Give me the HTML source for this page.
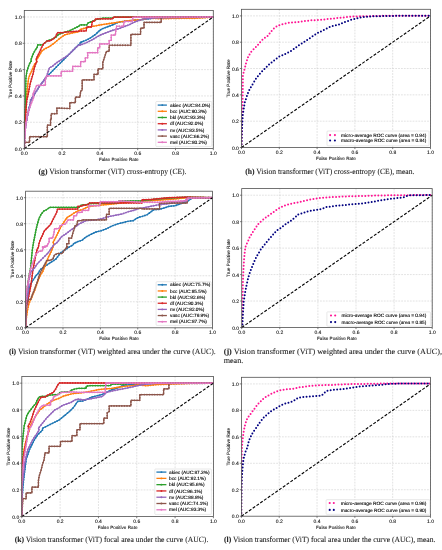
<!DOCTYPE html>
<html><head><meta charset="utf-8"><style>
html,body{margin:0;padding:0;background:#fff;}
body{width:442px;height:550px;overflow:hidden;position:relative;}
svg{position:absolute;left:0;top:0;filter:blur(0.28px);}
text{text-rendering:geometricPrecision;}
.grid{stroke:#c4c4c4;stroke-width:0.5;stroke-dasharray:1.8 1.1;}
.tick{stroke:#222;stroke-width:0.6;}
.frame{fill:none;stroke:#505050;stroke-width:0.8;}
.diag{stroke:#000;stroke-width:1.1;stroke-dasharray:3 1.6;}
.cc{fill:none;stroke-width:1.2;stroke-linejoin:round;}
.cm{fill:none;stroke-width:1.8;stroke-linecap:round;stroke-dasharray:0 2.6;}
.mc{fill:none;stroke-width:2.0;stroke-linecap:round;stroke-dasharray:0 3.25;}
.leg{fill:#fff;fill-opacity:0.8;stroke:#d0d0d0;stroke-width:0.5;}
.lh{stroke-width:1.3;}
.tl{font-family:"Liberation Sans",sans-serif;font-size:5.0px;fill:#000;stroke:#000;stroke-width:0.08;}
.al{font-family:"Liberation Sans",sans-serif;font-size:4.7px;fill:#000;stroke:#000;stroke-width:0.06;}
.lt{font-family:"Liberation Sans",sans-serif;font-size:4.75px;fill:#000;stroke:#000;stroke-width:0.12;}
.cap{font-family:"Liberation Serif",serif;font-size:7.5px;fill:#1a1a1a;stroke:#1a1a1a;stroke-width:0.08;}
</style></head><body>
<svg width="442" height="550" viewBox="0 0 442 550">
<defs><clipPath id="clipg"><rect x="24.3" y="10.4" width="189.00" height="138.20"/></clipPath><clipPath id="cliph"><rect x="241.5" y="9.3" width="189.00" height="138.20"/></clipPath><clipPath id="clipi"><rect x="25.6" y="191.2" width="186.90" height="136.60"/></clipPath><clipPath id="clipj"><rect x="241.7" y="188.6" width="190.50" height="138.90"/></clipPath><clipPath id="clipk"><rect x="21.8" y="376.5" width="191.60" height="140.10"/></clipPath><clipPath id="clipl"><rect x="241.4" y="377.3" width="189.10" height="138.90"/></clipPath></defs>
<line x1="62.10" y1="10.40" x2="62.10" y2="148.60" class="grid"/>
<line x1="24.30" y1="122.28" x2="213.30" y2="122.28" class="grid"/>
<line x1="99.90" y1="10.40" x2="99.90" y2="148.60" class="grid"/>
<line x1="24.30" y1="95.95" x2="213.30" y2="95.95" class="grid"/>
<line x1="137.70" y1="10.40" x2="137.70" y2="148.60" class="grid"/>
<line x1="24.30" y1="69.63" x2="213.30" y2="69.63" class="grid"/>
<line x1="175.50" y1="10.40" x2="175.50" y2="148.60" class="grid"/>
<line x1="24.30" y1="43.30" x2="213.30" y2="43.30" class="grid"/>
<line x1="213.30" y1="10.40" x2="213.30" y2="148.60" class="grid"/>
<line x1="24.30" y1="16.98" x2="213.30" y2="16.98" class="grid"/>
<line x1="24.30" y1="148.60" x2="24.30" y2="150.20" class="tick"/>
<line x1="22.70" y1="148.60" x2="24.30" y2="148.60" class="tick"/>
<text x="24.30" y="155.10" class="tl" text-anchor="middle">0.0</text>
<text x="21.70" y="150.70" class="tl" text-anchor="end">0.0</text>
<line x1="62.10" y1="148.60" x2="62.10" y2="150.20" class="tick"/>
<line x1="22.70" y1="122.28" x2="24.30" y2="122.28" class="tick"/>
<text x="62.10" y="155.10" class="tl" text-anchor="middle">0.2</text>
<text x="21.70" y="124.38" class="tl" text-anchor="end">0.2</text>
<line x1="99.90" y1="148.60" x2="99.90" y2="150.20" class="tick"/>
<line x1="22.70" y1="95.95" x2="24.30" y2="95.95" class="tick"/>
<text x="99.90" y="155.10" class="tl" text-anchor="middle">0.4</text>
<text x="21.70" y="98.05" class="tl" text-anchor="end">0.4</text>
<line x1="137.70" y1="148.60" x2="137.70" y2="150.20" class="tick"/>
<line x1="22.70" y1="69.63" x2="24.30" y2="69.63" class="tick"/>
<text x="137.70" y="155.10" class="tl" text-anchor="middle">0.6</text>
<text x="21.70" y="71.73" class="tl" text-anchor="end">0.6</text>
<line x1="175.50" y1="148.60" x2="175.50" y2="150.20" class="tick"/>
<line x1="22.70" y1="43.30" x2="24.30" y2="43.30" class="tick"/>
<text x="175.50" y="155.10" class="tl" text-anchor="middle">0.8</text>
<text x="21.70" y="45.40" class="tl" text-anchor="end">0.8</text>
<line x1="213.30" y1="148.60" x2="213.30" y2="150.20" class="tick"/>
<line x1="22.70" y1="16.98" x2="24.30" y2="16.98" class="tick"/>
<text x="213.30" y="155.10" class="tl" text-anchor="middle">1.0</text>
<text x="21.70" y="19.08" class="tl" text-anchor="end">1.0</text>
<text x="118.80" y="161.10" class="al" text-anchor="middle" textLength="39.8" lengthAdjust="spacingAndGlyphs">False Positive Rate</text>
<text transform="translate(12.40,79.50) rotate(-90)" x="0" y="0" class="al" text-anchor="middle" textLength="37.7" lengthAdjust="spacingAndGlyphs">True Positive Rate</text>
<g clip-path="url(#clipg)">
<polyline points="24.30,148.60 24.60,137.00 25.35,128.36 26.36,122.00 27.64,114.36 28.91,108.00 30.82,101.64 31.11,100.00 34.50,94.30 38.57,87.51 42.65,82.08 46.72,76.65 50.79,72.58 53.51,69.86 56.22,67.15 58.94,64.43 62.33,61.04 65.72,57.65 69.79,53.57 73.87,49.50 77.94,45.43 82.01,42.04 80.00,42.54 85.43,40.51 89.50,38.47 93.57,35.75 96.29,33.72 99.00,31.00 101.72,28.97 107.15,26.93 112.58,24.90 116.65,22.86 120.72,21.77 127.51,20.82 134.30,20.14 140.00,19.87 155.19,17.91 180.98,17.57 203.34,17.39 213.30,16.98" class="cc" stroke="#1f77b4"/>
<polyline points="24.30,148.60 24.60,137.00 25.35,128.36 26.36,122.00 27.64,114.36 28.91,108.00 30.82,101.64 31.11,100.00 34.50,94.30 38.57,87.51 42.65,82.08 46.72,76.65 50.79,72.58 53.51,69.86 56.22,67.15 58.94,64.43 62.33,61.04 65.72,57.65 69.79,53.57 73.87,49.50 77.94,45.43 82.01,42.04 80.00,42.54 85.43,40.51 89.50,38.47 93.57,35.75 96.29,33.72 99.00,31.00 101.72,28.97 107.15,26.93 112.58,24.90 116.65,22.86 120.72,21.77 127.51,20.82 134.30,20.14 140.00,19.87 155.19,17.91 180.98,17.57 203.34,17.39 213.30,16.98" class="cm" stroke="#1f77b4"/>
<polyline points="24.30,148.60 24.70,122.00 26.36,100.00 26.81,94.39 27.71,85.34 28.62,78.10 29.98,74.48 31.79,70.86 33.14,67.24 34.95,63.62 36.76,61.81 36.35,59.96 39.07,55.87 41.80,51.10 44.52,49.06 48.61,47.02 52.70,44.29 56.78,40.89 60.87,37.48 64.96,34.75 64.75,34.80 71.09,33.21 79.01,31.63 80.00,29.65 86.79,27.61 93.57,26.25 100.36,24.90 107.15,23.81 113.94,22.86 120.72,21.77 127.51,20.82 134.30,20.14 140.00,19.87 148.32,18.25 160.35,18.60 172.39,18.43 194.74,18.25 211.93,17.22 213.30,16.98" class="cc" stroke="#ff7f0e"/>
<polyline points="24.30,148.60 24.70,122.00 26.36,100.00 26.81,94.39 27.71,85.34 28.62,78.10 29.98,74.48 31.79,70.86 33.14,67.24 34.95,63.62 36.76,61.81 36.35,59.96 39.07,55.87 41.80,51.10 44.52,49.06 48.61,47.02 52.70,44.29 56.78,40.89 60.87,37.48 64.96,34.75 64.75,34.80 71.09,33.21 79.01,31.63 80.00,29.65 86.79,27.61 93.57,26.25 100.36,24.90 107.15,23.81 113.94,22.86 120.72,21.77 127.51,20.82 134.30,20.14 140.00,19.87 148.32,18.25 160.35,18.60 172.39,18.43 194.74,18.25 211.93,17.22 213.30,16.98" class="cm" stroke="#ff7f0e"/>
<polyline points="24.30,148.60 24.60,118.00 25.45,100.00 25.72,87.15 25.90,78.10 26.81,71.76 28.17,67.24 29.52,63.62 31.33,60.90 30.90,59.96 32.94,54.51 34.99,50.42 37.03,47.70 37.71,44.97 42.48,44.97 43.84,43.61 47.25,40.89 51.34,39.52 55.42,37.48 58.15,34.75 60.87,33.39 64.96,32.03 69.50,30.84 74.25,28.46 79.01,26.09 80.00,24.90 86.79,24.90 88.14,22.86 93.57,20.82 96.29,19.47 103.08,18.11 112.58,18.11 113.94,17.16 213.30,16.98" class="cc" stroke="#2ca02c"/>
<polyline points="24.30,148.60 24.60,118.00 25.45,100.00 25.72,87.15 25.90,78.10 26.81,71.76 28.17,67.24 29.52,63.62 31.33,60.90 30.90,59.96 32.94,54.51 34.99,50.42 37.03,47.70 37.71,44.97 42.48,44.97 43.84,43.61 47.25,40.89 51.34,39.52 55.42,37.48 58.15,34.75 60.87,33.39 64.96,32.03 69.50,30.84 74.25,28.46 79.01,26.09 80.00,24.90 86.79,24.90 88.14,22.86 93.57,20.82 96.29,19.47 103.08,18.11 112.58,18.11 113.94,17.16 213.30,16.98" class="cm" stroke="#2ca02c"/>
<polyline points="24.30,148.60 24.80,126.00 26.81,100.00 28.17,94.39 29.52,87.15 30.43,82.62 31.79,78.10 33.14,73.57 34.05,69.05 35.41,64.52 36.76,61.81 36.35,58.60 38.39,54.51 39.75,51.78 41.12,48.38 42.48,45.65 43.84,43.61 47.25,40.89 49.97,40.89 53.38,38.84 55.42,36.80 57.47,32.71 62.23,32.71 66.32,32.03 80.00,31.00 86.11,31.00 86.79,26.93 91.54,26.93 92.22,21.50 94.93,20.82 95.61,18.79 112.58,18.79 113.26,17.16 213.30,16.98" class="cc" stroke="#d62728"/>
<polyline points="24.30,148.60 24.80,126.00 26.81,100.00 28.17,94.39 29.52,87.15 30.43,82.62 31.79,78.10 33.14,73.57 34.05,69.05 35.41,64.52 36.76,61.81 36.35,58.60 38.39,54.51 39.75,51.78 41.12,48.38 42.48,45.65 43.84,43.61 47.25,40.89 49.97,40.89 53.38,38.84 55.42,36.80 57.47,32.71 62.23,32.71 66.32,32.03 80.00,31.00 86.11,31.00 86.79,26.93 91.54,26.93 92.22,21.50 94.93,20.82 95.61,18.79 112.58,18.79 113.26,17.16 213.30,16.98" class="cm" stroke="#d62728"/>
<polyline points="24.30,148.60 24.60,135.00 26.11,123.27 27.64,115.64 30.18,105.46 30.43,100.00 34.50,94.30 38.57,87.51 42.65,82.08 46.72,75.97 49.43,67.83 52.15,66.47 56.22,63.08 60.29,60.36 64.36,57.65 68.44,54.93 72.51,50.86 76.58,46.79 80.65,44.07 80.00,45.26 86.79,42.54 92.22,39.83 97.65,36.43 101.72,34.40 107.15,32.36 112.58,30.32 118.01,28.97 123.44,26.93 128.87,24.90 134.30,22.18 140.00,20.14 143.16,18.94 155.19,17.91 172.39,17.57 189.58,17.39 213.30,16.98" class="cc" stroke="#9467bd"/>
<polyline points="24.30,148.60 24.60,135.00 26.11,123.27 27.64,115.64 30.18,105.46 30.43,100.00 34.50,94.30 38.57,87.51 42.65,82.08 46.72,75.97 49.43,67.83 52.15,66.47 56.22,63.08 60.29,60.36 64.36,57.65 68.44,54.93 72.51,50.86 76.58,46.79 80.65,44.07 80.00,45.26 86.79,42.54 92.22,39.83 97.65,36.43 101.72,34.40 107.15,32.36 112.58,30.32 118.01,28.97 123.44,26.93 128.87,24.90 134.30,22.18 140.00,20.14 143.16,18.94 155.19,17.91 172.39,17.57 189.58,17.39 213.30,16.98" class="cm" stroke="#9467bd"/>
<polyline points="24.30,148.60 24.45,142.36 29.55,142.36 29.55,136.64 47.36,136.64 47.36,125.18 50.55,125.18 50.55,119.46 51.18,119.46 51.18,113.73 56.91,113.73 56.91,108.00 69.80,108.50 69.80,102.60 75.40,102.60 75.40,97.20 80.00,97.20 80.60,91.30 82.20,90.00 82.20,79.90 94.00,79.90 94.00,74.40 98.00,74.40 98.00,68.80 102.80,68.80 102.80,62.50 106.47,51.36 109.18,51.36 109.18,45.26 130.90,45.26 130.90,34.40 140.00,34.40 140.58,34.07 140.58,28.05 144.02,28.05 144.02,22.38 161.21,22.38 161.21,17.22 213.30,16.98" class="cc" stroke="#8c564b"/>
<polyline points="24.30,148.60 24.45,142.36 29.55,142.36 29.55,136.64 47.36,136.64 47.36,125.18 50.55,125.18 50.55,119.46 51.18,119.46 51.18,113.73 56.91,113.73 56.91,108.00 69.80,108.50 69.80,102.60 75.40,102.60 75.40,97.20 80.00,97.20 80.60,91.30 82.20,90.00 82.20,79.90 94.00,79.90 94.00,74.40 98.00,74.40 98.00,68.80 102.80,68.80 102.80,62.50 106.47,51.36 109.18,51.36 109.18,45.26 130.90,45.26 130.90,34.40 140.00,34.40 140.58,34.07 140.58,28.05 144.02,28.05 144.02,22.38 161.21,22.38 161.21,17.22 213.30,16.98" class="cm" stroke="#8c564b"/>
<polyline points="24.30,148.60 24.84,136.00 25.73,125.82 27.00,116.91 28.91,109.27 31.45,102.91 34.00,96.55 32.69,94.84 36.76,85.34 45.36,85.34 45.36,79.91 46.72,75.84 61.20,75.84 61.20,71.31 72.67,71.22 72.67,66.47 80.59,66.47 80.59,61.72 85.34,61.72 85.34,57.76 87.72,57.76 87.72,53.01 87.47,52.72 97.65,52.72 97.65,47.97 99.68,47.97 99.68,43.90 109.18,43.90 109.18,40.51 111.22,40.51 111.22,35.08 115.29,35.08 115.97,29.65 116.65,26.25 123.44,26.25 124.12,21.50 132.26,21.50 132.94,17.43 140.00,17.16 213.30,16.98" class="cc" stroke="#e377c2"/>
<polyline points="24.30,148.60 24.84,136.00 25.73,125.82 27.00,116.91 28.91,109.27 31.45,102.91 34.00,96.55 32.69,94.84 36.76,85.34 45.36,85.34 45.36,79.91 46.72,75.84 61.20,75.84 61.20,71.31 72.67,71.22 72.67,66.47 80.59,66.47 80.59,61.72 85.34,61.72 85.34,57.76 87.72,57.76 87.72,53.01 87.47,52.72 97.65,52.72 97.65,47.97 99.68,47.97 99.68,43.90 109.18,43.90 109.18,40.51 111.22,40.51 111.22,35.08 115.29,35.08 115.97,29.65 116.65,26.25 123.44,26.25 124.12,21.50 132.26,21.50 132.94,17.43 140.00,17.16 213.30,16.98" class="cm" stroke="#e377c2"/>
</g>
<line x1="24.30" y1="148.60" x2="213.30" y2="16.98" class="diag"/>
<rect x="24.30" y="10.40" width="189.00" height="138.20" class="frame"/>
<rect x="155.8" y="101.5" width="56.00" height="44.90" rx="0.8" class="leg"/>
<line x1="157.7" y1="105.10" x2="166.9" y2="105.10" stroke="#1f77b4" class="lh"/>
<circle cx="162.30" cy="105.10" r="0.95" fill="#1f77b4"/>
<text x="170.0" y="106.70" class="lt">akiec (AUC:84.0%)</text>
<line x1="157.7" y1="111.30" x2="166.9" y2="111.30" stroke="#ff7f0e" class="lh"/>
<circle cx="162.30" cy="111.30" r="0.95" fill="#ff7f0e"/>
<text x="170.0" y="112.90" class="lt">bcc (AUC:90.3%)</text>
<line x1="157.7" y1="117.50" x2="166.9" y2="117.50" stroke="#2ca02c" class="lh"/>
<circle cx="162.30" cy="117.50" r="0.95" fill="#2ca02c"/>
<text x="170.0" y="119.10" class="lt">bkl (AUC:93.3%)</text>
<line x1="157.7" y1="123.70" x2="166.9" y2="123.70" stroke="#d62728" class="lh"/>
<circle cx="162.30" cy="123.70" r="0.95" fill="#d62728"/>
<text x="170.0" y="125.30" class="lt">df (AUC:92.0%)</text>
<line x1="157.7" y1="129.90" x2="166.9" y2="129.90" stroke="#9467bd" class="lh"/>
<circle cx="162.30" cy="129.90" r="0.95" fill="#9467bd"/>
<text x="170.0" y="131.50" class="lt">nv (AUC:83.5%)</text>
<line x1="157.7" y1="136.10" x2="166.9" y2="136.10" stroke="#8c564b" class="lh"/>
<circle cx="162.30" cy="136.10" r="0.95" fill="#8c564b"/>
<text x="170.0" y="137.70" class="lt">vasc (AUC:66.2%)</text>
<line x1="157.7" y1="142.30" x2="166.9" y2="142.30" stroke="#e377c2" class="lh"/>
<circle cx="162.30" cy="142.30" r="0.95" fill="#e377c2"/>
<text x="170.0" y="143.90" class="lt">mel (AUC:80.2%)</text>
<line x1="279.30" y1="9.30" x2="279.30" y2="147.50" class="grid"/>
<line x1="241.50" y1="121.18" x2="430.50" y2="121.18" class="grid"/>
<line x1="317.10" y1="9.30" x2="317.10" y2="147.50" class="grid"/>
<line x1="241.50" y1="94.85" x2="430.50" y2="94.85" class="grid"/>
<line x1="354.90" y1="9.30" x2="354.90" y2="147.50" class="grid"/>
<line x1="241.50" y1="68.53" x2="430.50" y2="68.53" class="grid"/>
<line x1="392.70" y1="9.30" x2="392.70" y2="147.50" class="grid"/>
<line x1="241.50" y1="42.20" x2="430.50" y2="42.20" class="grid"/>
<line x1="430.50" y1="9.30" x2="430.50" y2="147.50" class="grid"/>
<line x1="241.50" y1="15.88" x2="430.50" y2="15.88" class="grid"/>
<line x1="241.50" y1="147.50" x2="241.50" y2="149.10" class="tick"/>
<line x1="239.90" y1="147.50" x2="241.50" y2="147.50" class="tick"/>
<text x="241.50" y="154.00" class="tl" text-anchor="middle">0.0</text>
<text x="238.90" y="149.60" class="tl" text-anchor="end">0.0</text>
<line x1="279.30" y1="147.50" x2="279.30" y2="149.10" class="tick"/>
<line x1="239.90" y1="121.18" x2="241.50" y2="121.18" class="tick"/>
<text x="279.30" y="154.00" class="tl" text-anchor="middle">0.2</text>
<text x="238.90" y="123.28" class="tl" text-anchor="end">0.2</text>
<line x1="317.10" y1="147.50" x2="317.10" y2="149.10" class="tick"/>
<line x1="239.90" y1="94.85" x2="241.50" y2="94.85" class="tick"/>
<text x="317.10" y="154.00" class="tl" text-anchor="middle">0.4</text>
<text x="238.90" y="96.95" class="tl" text-anchor="end">0.4</text>
<line x1="354.90" y1="147.50" x2="354.90" y2="149.10" class="tick"/>
<line x1="239.90" y1="68.53" x2="241.50" y2="68.53" class="tick"/>
<text x="354.90" y="154.00" class="tl" text-anchor="middle">0.6</text>
<text x="238.90" y="70.63" class="tl" text-anchor="end">0.6</text>
<line x1="392.70" y1="147.50" x2="392.70" y2="149.10" class="tick"/>
<line x1="239.90" y1="42.20" x2="241.50" y2="42.20" class="tick"/>
<text x="392.70" y="154.00" class="tl" text-anchor="middle">0.8</text>
<text x="238.90" y="44.30" class="tl" text-anchor="end">0.8</text>
<line x1="430.50" y1="147.50" x2="430.50" y2="149.10" class="tick"/>
<line x1="239.90" y1="15.88" x2="241.50" y2="15.88" class="tick"/>
<text x="430.50" y="154.00" class="tl" text-anchor="middle">1.0</text>
<text x="238.90" y="17.98" class="tl" text-anchor="end">1.0</text>
<text x="336.00" y="160.00" class="al" text-anchor="middle" textLength="39.8" lengthAdjust="spacingAndGlyphs">False Positive Rate</text>
<text transform="translate(229.60,78.40) rotate(-90)" x="0" y="0" class="al" text-anchor="middle" textLength="37.7" lengthAdjust="spacingAndGlyphs">True Positive Rate</text>
<g clip-path="url(#cliph)">
<polyline points="241.50,147.50 241.50,145.90 241.80,133.60 242.10,120.00 242.40,110.50 242.60,102.30 242.80,88.60 242.90,75.00 244.07,71.08 246.11,62.94 248.14,56.83 250.86,52.08 253.57,49.36 256.97,45.97 260.36,41.90 263.75,38.51 267.15,36.47 269.86,33.08 272.58,29.68 275.29,27.37 278.01,25.61 282.08,24.25 286.15,23.30 290.22,22.62 294.30,22.22 298.37,21.95 310.40,20.38 321.71,19.71 333.02,18.57 349.31,16.76 360.62,16.31 383.25,15.86 405.87,15.63 430.31,15.63" class="mc" stroke="#ff1493"/>
<polyline points="241.50,147.50 241.40,145.90 241.70,140.50 241.80,133.60 242.10,126.80 242.50,120.00 242.80,114.50 243.50,110.50 244.10,106.40 244.80,102.30 246.20,98.20 247.50,94.10 249.60,89.30 251.60,85.90 253.70,82.50 255.70,79.10 257.65,76.51 260.36,73.12 263.75,69.73 266.47,67.01 269.18,64.30 272.58,61.58 275.29,59.55 278.69,56.83 282.08,55.47 286.15,53.44 290.22,51.40 294.30,48.69 298.37,45.56 303.61,42.33 310.40,37.81 317.19,33.28 323.97,29.89 330.76,26.49 338.00,24.91 344.79,21.97 351.57,19.71 360.62,17.44 371.94,16.31 394.56,15.86 430.31,15.63" class="mc" stroke="#000080"/>
</g>
<line x1="241.50" y1="147.50" x2="430.50" y2="15.88" class="diag"/>
<rect x="241.50" y="9.30" width="189.00" height="138.20" class="frame"/>
<rect x="327.0" y="131.0" width="102.00" height="14.80" rx="0.8" class="leg"/>
<circle cx="330.1" cy="135.10" r="1.05" fill="#ff1493"/>
<circle cx="334.9" cy="135.10" r="1.05" fill="#ff1493"/>
<text x="341.0" y="136.70" class="lt" textLength="85.3" lengthAdjust="spacingAndGlyphs">micro-average ROC curve (area = 0.94)</text>
<circle cx="330.1" cy="140.50" r="1.05" fill="#000080"/>
<circle cx="334.9" cy="140.50" r="1.05" fill="#000080"/>
<text x="341.0" y="142.10" class="lt" textLength="85.3" lengthAdjust="spacingAndGlyphs">macro-average ROC curve (area = 0.84)</text>
<line x1="62.98" y1="191.20" x2="62.98" y2="327.80" class="grid"/>
<line x1="25.60" y1="301.78" x2="212.50" y2="301.78" class="grid"/>
<line x1="100.36" y1="191.20" x2="100.36" y2="327.80" class="grid"/>
<line x1="25.60" y1="275.76" x2="212.50" y2="275.76" class="grid"/>
<line x1="137.74" y1="191.20" x2="137.74" y2="327.80" class="grid"/>
<line x1="25.60" y1="249.74" x2="212.50" y2="249.74" class="grid"/>
<line x1="175.12" y1="191.20" x2="175.12" y2="327.80" class="grid"/>
<line x1="25.60" y1="223.72" x2="212.50" y2="223.72" class="grid"/>
<line x1="212.50" y1="191.20" x2="212.50" y2="327.80" class="grid"/>
<line x1="25.60" y1="197.70" x2="212.50" y2="197.70" class="grid"/>
<line x1="25.60" y1="327.80" x2="25.60" y2="329.40" class="tick"/>
<line x1="24.00" y1="327.80" x2="25.60" y2="327.80" class="tick"/>
<text x="25.60" y="334.30" class="tl" text-anchor="middle">0.0</text>
<text x="23.00" y="329.90" class="tl" text-anchor="end">0.0</text>
<line x1="62.98" y1="327.80" x2="62.98" y2="329.40" class="tick"/>
<line x1="24.00" y1="301.78" x2="25.60" y2="301.78" class="tick"/>
<text x="62.98" y="334.30" class="tl" text-anchor="middle">0.2</text>
<text x="23.00" y="303.88" class="tl" text-anchor="end">0.2</text>
<line x1="100.36" y1="327.80" x2="100.36" y2="329.40" class="tick"/>
<line x1="24.00" y1="275.76" x2="25.60" y2="275.76" class="tick"/>
<text x="100.36" y="334.30" class="tl" text-anchor="middle">0.4</text>
<text x="23.00" y="277.86" class="tl" text-anchor="end">0.4</text>
<line x1="137.74" y1="327.80" x2="137.74" y2="329.40" class="tick"/>
<line x1="24.00" y1="249.74" x2="25.60" y2="249.74" class="tick"/>
<text x="137.74" y="334.30" class="tl" text-anchor="middle">0.6</text>
<text x="23.00" y="251.84" class="tl" text-anchor="end">0.6</text>
<line x1="175.12" y1="327.80" x2="175.12" y2="329.40" class="tick"/>
<line x1="24.00" y1="223.72" x2="25.60" y2="223.72" class="tick"/>
<text x="175.12" y="334.30" class="tl" text-anchor="middle">0.8</text>
<text x="23.00" y="225.82" class="tl" text-anchor="end">0.8</text>
<line x1="212.50" y1="327.80" x2="212.50" y2="329.40" class="tick"/>
<line x1="24.00" y1="197.70" x2="25.60" y2="197.70" class="tick"/>
<text x="212.50" y="334.30" class="tl" text-anchor="middle">1.0</text>
<text x="23.00" y="199.80" class="tl" text-anchor="end">1.0</text>
<text x="119.05" y="340.30" class="al" text-anchor="middle" textLength="39.8" lengthAdjust="spacingAndGlyphs">False Positive Rate</text>
<text transform="translate(13.70,259.50) rotate(-90)" x="0" y="0" class="al" text-anchor="middle" textLength="37.7" lengthAdjust="spacingAndGlyphs">True Positive Rate</text>
<g clip-path="url(#clipi)">
<polyline points="25.60,327.80 25.81,314.69 26.90,302.70 28.54,291.80 30.17,285.26 31.81,281.99 33.99,278.72 36.17,275.45 38.35,273.27 39.98,270.00 42.10,268.19 46.74,265.10 51.38,262.01 56.02,258.92 60.66,252.73 65.30,249.64 69.94,246.55 73.03,245.00 73.58,243.65 77.65,241.62 82.00,240.26 86.07,236.87 90.14,234.83 95.57,232.12 101.00,230.76 106.43,228.72 111.86,226.01 117.29,223.97 122.72,222.61 128.15,221.26 133.58,220.58 136.30,218.54 139.01,217.18 142.00,216.46 147.02,214.79 150.37,212.28 153.72,209.76 158.74,209.43 163.76,208.09 168.79,206.42 175.48,205.58 182.18,203.07 187.20,201.39 189.71,199.72 192.23,198.05 212.50,197.70" class="cc" stroke="#1f77b4"/>
<polyline points="25.60,327.80 25.81,314.69 26.90,302.70 28.54,291.80 30.17,285.26 31.81,281.99 33.99,278.72 36.17,275.45 38.35,273.27 39.98,270.00 42.10,268.19 46.74,265.10 51.38,262.01 56.02,258.92 60.66,252.73 65.30,249.64 69.94,246.55 73.03,245.00 73.58,243.65 77.65,241.62 82.00,240.26 86.07,236.87 90.14,234.83 95.57,232.12 101.00,230.76 106.43,228.72 111.86,226.01 117.29,223.97 122.72,222.61 128.15,221.26 133.58,220.58 136.30,218.54 139.01,217.18 142.00,216.46 147.02,214.79 150.37,212.28 153.72,209.76 158.74,209.43 163.76,208.09 168.79,206.42 175.48,205.58 182.18,203.07 187.20,201.39 189.71,199.72 192.23,198.05 212.50,197.70" class="cm" stroke="#1f77b4"/>
<polyline points="25.60,327.80 26.36,317.96 27.45,310.33 28.54,304.88 30.17,300.52 31.81,297.25 32.90,293.98 34.53,290.71 35.62,287.44 37.26,283.08 38.89,278.72 40.53,274.90 42.71,271.63 48.29,257.37 51.38,251.19 53.70,245.00 53.22,242.30 55.94,236.87 58.65,231.44 61.36,226.01 64.08,221.94 66.79,217.86 70.87,215.15 74.94,212.43 79.01,210.40 82.00,209.72 86.07,207.68 90.14,206.32 95.57,205.65 102.36,204.97 109.15,204.29 115.94,203.61 122.72,202.93 142.00,201.39 158.74,200.05 175.48,198.88 187.20,197.71 212.50,197.70" class="cc" stroke="#ff7f0e"/>
<polyline points="25.60,327.80 26.36,317.96 27.45,310.33 28.54,304.88 30.17,300.52 31.81,297.25 32.90,293.98 34.53,290.71 35.62,287.44 37.26,283.08 38.89,278.72 40.53,274.90 42.71,271.63 48.29,257.37 51.38,251.19 53.70,245.00 53.22,242.30 55.94,236.87 58.65,231.44 61.36,226.01 64.08,221.94 66.79,217.86 70.87,215.15 74.94,212.43 79.01,210.40 82.00,209.72 86.07,207.68 90.14,206.32 95.57,205.65 102.36,204.97 109.15,204.29 115.94,203.61 122.72,202.93 142.00,201.39 158.74,200.05 175.48,198.88 187.20,197.71 212.50,197.70" class="cm" stroke="#ff7f0e"/>
<polyline points="25.60,327.80 25.40,309.95 26.64,291.39 28.96,275.93 30.50,268.19 31.28,260.46 32.05,252.73 32.59,248.00 33.54,242.30 34.90,235.51 36.25,228.72 37.61,223.29 38.97,218.54 41.00,214.47 43.72,211.08 46.43,209.72 48.47,208.36 49.83,207.28 79.01,207.28 80.37,205.65 82.00,204.97 87.43,204.56 88.79,203.61 118.65,202.93 118.65,200.90 142.00,200.90 142.00,200.56 158.74,198.88 168.79,198.05 175.48,197.71 187.20,197.21 212.50,197.70" class="cc" stroke="#2ca02c"/>
<polyline points="25.60,327.80 25.40,309.95 26.64,291.39 28.96,275.93 30.50,268.19 31.28,260.46 32.05,252.73 32.59,248.00 33.54,242.30 34.90,235.51 36.25,228.72 37.61,223.29 38.97,218.54 41.00,214.47 43.72,211.08 46.43,209.72 48.47,208.36 49.83,207.28 79.01,207.28 80.37,205.65 82.00,204.97 87.43,204.56 88.79,203.61 118.65,202.93 118.65,200.90 142.00,200.90 142.00,200.56 158.74,198.88 168.79,198.05 175.48,197.71 187.20,197.21 212.50,197.70" class="cm" stroke="#2ca02c"/>
<polyline points="25.60,327.80 26.00,300.00 27.45,304.88 28.54,297.25 29.63,291.80 30.72,286.35 31.81,278.72 32.90,270.00 35.92,254.28 37.46,248.09 38.29,248.00 38.97,243.65 40.32,239.58 42.36,235.51 44.40,230.76 47.11,228.04 50.51,224.65 52.54,220.58 54.58,216.51 56.61,212.43 57.56,209.04 77.65,209.04 77.93,206.32 82.00,206.05 82.00,205.65 88.79,204.29 89.47,202.93 142.00,202.93 142.00,199.72 152.05,199.38 168.79,197.71 187.20,197.21 212.50,197.70" class="cc" stroke="#d62728"/>
<polyline points="25.60,327.80 26.00,300.00 27.45,304.88 28.54,297.25 29.63,291.80 30.72,286.35 31.81,278.72 32.90,270.00 35.92,254.28 37.46,248.09 38.29,248.00 38.97,243.65 40.32,239.58 42.36,235.51 44.40,230.76 47.11,228.04 50.51,224.65 52.54,220.58 54.58,216.51 56.61,212.43 57.56,209.04 77.65,209.04 77.93,206.32 82.00,206.05 82.00,205.65 88.79,204.29 89.47,202.93 142.00,202.93 142.00,199.72 152.05,199.38 168.79,197.71 187.20,197.21 212.50,197.70" class="cm" stroke="#d62728"/>
<polyline points="25.60,327.80 25.60,324.50 26.14,313.60 26.90,302.70 27.99,291.80 29.08,284.17 28.19,283.66 30.50,272.83 31.28,271.29 34.37,268.19 37.46,263.56 42.10,258.92 45.19,255.82 48.29,252.73 51.38,248.09 53.70,245.00 57.29,242.30 61.36,236.87 65.44,234.15 70.87,230.08 74.94,227.36 79.01,223.97 82.00,222.61 86.07,220.58 95.57,219.90 102.36,218.54 109.15,216.51 115.94,215.15 122.72,213.79 128.15,211.75 133.58,210.40 139.01,208.36 142.00,208.09 150.37,206.42 158.74,204.74 167.11,203.90 175.48,202.23 183.86,201.39 187.20,198.88 192.23,197.71 212.50,197.70" class="cc" stroke="#9467bd"/>
<polyline points="25.60,327.80 25.60,324.50 26.14,313.60 26.90,302.70 27.99,291.80 29.08,284.17 28.19,283.66 30.50,272.83 31.28,271.29 34.37,268.19 37.46,263.56 42.10,258.92 45.19,255.82 48.29,252.73 51.38,248.09 53.70,245.00 57.29,242.30 61.36,236.87 65.44,234.15 70.87,230.08 74.94,227.36 79.01,223.97 82.00,222.61 86.07,220.58 95.57,219.90 102.36,218.54 109.15,216.51 115.94,215.15 122.72,213.79 128.15,211.75 133.58,210.40 139.01,208.36 142.00,208.09 150.37,206.42 158.74,204.74 167.11,203.90 175.48,202.23 183.86,201.39 187.20,198.88 192.23,197.71 212.50,197.70" class="cm" stroke="#9467bd"/>
<polyline points="25.60,327.80 25.81,316.87 26.36,305.97 26.90,302.70 28.54,299.43 30.72,299.43 31.81,296.16 32.90,293.43 33.99,290.71 35.62,286.35 37.26,281.99 38.89,276.54 40.53,272.18 45.19,263.56 46.74,260.46 49.83,260.46 52.93,258.92 54.47,255.05 57.57,253.50 62.20,253.50 63.75,251.19 65.30,248.87 67.62,246.55 66.79,248.00 66.79,243.65 68.83,243.65 68.83,238.22 71.55,238.22 72.90,232.79 74.26,228.72 74.94,226.01 76.97,224.65 77.65,220.58 82.00,220.58 82.00,219.90 106.43,219.90 106.43,214.47 109.15,214.47 109.15,208.36 142.00,208.36 142.00,208.93 159.58,208.93 159.58,203.07 187.20,203.07 187.20,198.05 212.50,197.70" class="cc" stroke="#8c564b"/>
<polyline points="25.60,327.80 25.81,316.87 26.36,305.97 26.90,302.70 28.54,299.43 30.72,299.43 31.81,296.16 32.90,293.43 33.99,290.71 35.62,286.35 37.26,281.99 38.89,276.54 40.53,272.18 45.19,263.56 46.74,260.46 49.83,260.46 52.93,258.92 54.47,255.05 57.57,253.50 62.20,253.50 63.75,251.19 65.30,248.87 67.62,246.55 66.79,248.00 66.79,243.65 68.83,243.65 68.83,238.22 71.55,238.22 72.90,232.79 74.26,228.72 74.94,226.01 76.97,224.65 77.65,220.58 82.00,220.58 82.00,219.90 106.43,219.90 106.43,214.47 109.15,214.47 109.15,208.36 142.00,208.36 142.00,208.93 159.58,208.93 159.58,203.07 187.20,203.07 187.20,198.05 212.50,197.70" class="cm" stroke="#8c564b"/>
<polyline points="25.60,327.80 25.40,313.04 25.87,299.12 26.64,289.84 28.19,282.11 29.73,272.83 31.28,266.65 33.60,260.46 35.92,254.28 39.01,251.19 42.10,251.19 43.65,246.55 47.51,245.77 42.36,247.05 45.75,247.05 49.15,242.30 49.15,238.22 52.54,238.22 53.90,233.47 54.58,228.72 58.65,228.72 60.01,226.01 62.72,224.65 65.44,223.97 68.15,219.90 73.58,219.90 73.58,215.83 76.30,215.83 77.65,212.43 82.00,212.43 82.00,210.40 88.79,210.40 88.79,205.65 99.65,205.65 100.32,201.57 118.65,201.57 119.33,200.90 142.00,202.23 158.74,202.23 168.79,201.39 175.48,201.39 187.20,200.56 187.20,198.05 212.50,197.70" class="cc" stroke="#e377c2"/>
<polyline points="25.60,327.80 25.40,313.04 25.87,299.12 26.64,289.84 28.19,282.11 29.73,272.83 31.28,266.65 33.60,260.46 35.92,254.28 39.01,251.19 42.10,251.19 43.65,246.55 47.51,245.77 42.36,247.05 45.75,247.05 49.15,242.30 49.15,238.22 52.54,238.22 53.90,233.47 54.58,228.72 58.65,228.72 60.01,226.01 62.72,224.65 65.44,223.97 68.15,219.90 73.58,219.90 73.58,215.83 76.30,215.83 77.65,212.43 82.00,212.43 82.00,210.40 88.79,210.40 88.79,205.65 99.65,205.65 100.32,201.57 118.65,201.57 119.33,200.90 142.00,202.23 158.74,202.23 168.79,201.39 175.48,201.39 187.20,200.56 187.20,198.05 212.50,197.70" class="cm" stroke="#e377c2"/>
</g>
<line x1="25.60" y1="327.80" x2="212.50" y2="197.70" class="diag"/>
<rect x="25.60" y="191.20" width="186.90" height="136.60" class="frame"/>
<rect x="156.1" y="281.7" width="55.10" height="43.70" rx="0.8" class="leg"/>
<line x1="157.7" y1="284.80" x2="166.9" y2="284.80" stroke="#1f77b4" class="lh"/>
<circle cx="162.30" cy="284.80" r="0.95" fill="#1f77b4"/>
<text x="170.0" y="286.40" class="lt">akiec (AUC:75.7%)</text>
<line x1="157.7" y1="290.95" x2="166.9" y2="290.95" stroke="#ff7f0e" class="lh"/>
<circle cx="162.30" cy="290.95" r="0.95" fill="#ff7f0e"/>
<text x="170.0" y="292.55" class="lt">bcc (AUC:85.5%)</text>
<line x1="157.7" y1="297.10" x2="166.9" y2="297.10" stroke="#2ca02c" class="lh"/>
<circle cx="162.30" cy="297.10" r="0.95" fill="#2ca02c"/>
<text x="170.0" y="298.70" class="lt">bkl (AUC:92.6%)</text>
<line x1="157.7" y1="303.25" x2="166.9" y2="303.25" stroke="#d62728" class="lh"/>
<circle cx="162.30" cy="303.25" r="0.95" fill="#d62728"/>
<text x="170.0" y="304.85" class="lt">df (AUC:90.3%)</text>
<line x1="157.7" y1="309.40" x2="166.9" y2="309.40" stroke="#9467bd" class="lh"/>
<circle cx="162.30" cy="309.40" r="0.95" fill="#9467bd"/>
<text x="170.0" y="311.00" class="lt">nv (AUC:82.0%)</text>
<line x1="157.7" y1="315.55" x2="166.9" y2="315.55" stroke="#8c564b" class="lh"/>
<circle cx="162.30" cy="315.55" r="0.95" fill="#8c564b"/>
<text x="170.0" y="317.15" class="lt">vasc (AUC:79.9%)</text>
<line x1="157.7" y1="321.70" x2="166.9" y2="321.70" stroke="#e377c2" class="lh"/>
<circle cx="162.30" cy="321.70" r="0.95" fill="#e377c2"/>
<text x="170.0" y="323.30" class="lt">mel (AUC:87.7%)</text>
<line x1="279.80" y1="188.60" x2="279.80" y2="327.50" class="grid"/>
<line x1="241.70" y1="301.04" x2="432.20" y2="301.04" class="grid"/>
<line x1="317.90" y1="188.60" x2="317.90" y2="327.50" class="grid"/>
<line x1="241.70" y1="274.59" x2="432.20" y2="274.59" class="grid"/>
<line x1="356.00" y1="188.60" x2="356.00" y2="327.50" class="grid"/>
<line x1="241.70" y1="248.13" x2="432.20" y2="248.13" class="grid"/>
<line x1="394.10" y1="188.60" x2="394.10" y2="327.50" class="grid"/>
<line x1="241.70" y1="221.67" x2="432.20" y2="221.67" class="grid"/>
<line x1="432.20" y1="188.60" x2="432.20" y2="327.50" class="grid"/>
<line x1="241.70" y1="195.21" x2="432.20" y2="195.21" class="grid"/>
<line x1="241.70" y1="327.50" x2="241.70" y2="329.10" class="tick"/>
<line x1="240.10" y1="327.50" x2="241.70" y2="327.50" class="tick"/>
<text x="241.70" y="334.00" class="tl" text-anchor="middle">0.0</text>
<text x="239.10" y="329.60" class="tl" text-anchor="end">0.0</text>
<line x1="279.80" y1="327.50" x2="279.80" y2="329.10" class="tick"/>
<line x1="240.10" y1="301.04" x2="241.70" y2="301.04" class="tick"/>
<text x="279.80" y="334.00" class="tl" text-anchor="middle">0.2</text>
<text x="239.10" y="303.14" class="tl" text-anchor="end">0.2</text>
<line x1="317.90" y1="327.50" x2="317.90" y2="329.10" class="tick"/>
<line x1="240.10" y1="274.59" x2="241.70" y2="274.59" class="tick"/>
<text x="317.90" y="334.00" class="tl" text-anchor="middle">0.4</text>
<text x="239.10" y="276.69" class="tl" text-anchor="end">0.4</text>
<line x1="356.00" y1="327.50" x2="356.00" y2="329.10" class="tick"/>
<line x1="240.10" y1="248.13" x2="241.70" y2="248.13" class="tick"/>
<text x="356.00" y="334.00" class="tl" text-anchor="middle">0.6</text>
<text x="239.10" y="250.23" class="tl" text-anchor="end">0.6</text>
<line x1="394.10" y1="327.50" x2="394.10" y2="329.10" class="tick"/>
<line x1="240.10" y1="221.67" x2="241.70" y2="221.67" class="tick"/>
<text x="394.10" y="334.00" class="tl" text-anchor="middle">0.8</text>
<text x="239.10" y="223.77" class="tl" text-anchor="end">0.8</text>
<line x1="432.20" y1="327.50" x2="432.20" y2="329.10" class="tick"/>
<line x1="240.10" y1="195.21" x2="241.70" y2="195.21" class="tick"/>
<text x="432.20" y="334.00" class="tl" text-anchor="middle">1.0</text>
<text x="239.10" y="197.31" class="tl" text-anchor="end">1.0</text>
<text x="336.95" y="340.00" class="al" text-anchor="middle" textLength="39.8" lengthAdjust="spacingAndGlyphs">False Positive Rate</text>
<text transform="translate(229.80,258.05) rotate(-90)" x="0" y="0" class="al" text-anchor="middle" textLength="37.7" lengthAdjust="spacingAndGlyphs">True Positive Rate</text>
<g clip-path="url(#clipj)">
<polyline points="241.70,327.50 242.10,323.20 242.20,316.40 242.40,309.50 242.50,302.70 242.60,295.90 242.80,289.10 242.90,282.30 243.20,275.50 243.50,268.60 243.90,261.80 244.07,259.23 244.75,252.44 245.43,247.01 246.79,243.62 248.14,240.90 249.50,237.51 251.54,234.12 253.57,230.72 255.61,228.01 257.65,224.61 260.36,221.90 263.75,219.18 267.15,216.47 270.54,214.16 273.94,211.72 277.33,209.28 280.72,207.37 284.79,205.61 288.87,204.25 292.94,203.17 297.01,202.49 298.00,202.40 304.30,200.80 310.70,199.50 318.60,198.20 326.50,197.40 337.60,196.80 350.30,196.30 366.10,195.90 381.80,195.40 397.70,195.30 413.50,195.10 432.40,195.00" class="mc" stroke="#ff1493"/>
<polyline points="241.70,327.50 242.40,325.90 242.60,320.50 242.90,315.00 243.20,309.50 243.50,305.50 243.70,301.40 244.50,296.60 245.10,292.50 245.90,288.40 246.90,283.60 247.80,279.50 248.90,275.50 250.30,271.40 251.60,268.00 253.30,263.90 255.00,259.80 256.97,255.83 259.00,252.44 261.04,249.05 263.75,245.65 266.47,242.26 269.18,238.87 271.90,236.15 274.61,232.76 277.33,230.04 280.72,228.01 283.44,225.97 286.83,223.26 290.22,221.22 293.62,218.51 297.01,215.79 298.00,214.50 302.80,213.00 307.50,211.40 313.80,210.30 321.80,209.00 326.50,207.10 332.80,206.20 340.80,205.40 348.70,204.60 358.20,203.80 366.10,203.00 372.30,201.90 378.70,200.70 385.00,199.60 391.30,198.80 397.70,198.00 404.00,197.20 407.20,195.90 410.30,195.30 432.40,195.00" class="mc" stroke="#000080"/>
</g>
<line x1="241.70" y1="327.50" x2="432.20" y2="195.21" class="diag"/>
<rect x="241.70" y="188.60" width="190.50" height="138.90" class="frame"/>
<rect x="326.9" y="311.9" width="103.50" height="14.30" rx="0.8" class="leg"/>
<circle cx="331.0" cy="315.50" r="1.05" fill="#ff1493"/>
<circle cx="335.2" cy="315.50" r="1.05" fill="#ff1493"/>
<text x="341.5" y="317.10" class="lt" textLength="84.8" lengthAdjust="spacingAndGlyphs">micro-average ROC curve (area = 0.94)</text>
<circle cx="331.0" cy="322.10" r="1.05" fill="#000080"/>
<circle cx="335.2" cy="322.10" r="1.05" fill="#000080"/>
<text x="341.5" y="323.70" class="lt" textLength="84.8" lengthAdjust="spacingAndGlyphs">macro-average ROC curve (area = 0.85)</text>
<line x1="60.12" y1="376.50" x2="60.12" y2="516.60" class="grid"/>
<line x1="21.80" y1="489.91" x2="213.40" y2="489.91" class="grid"/>
<line x1="98.44" y1="376.50" x2="98.44" y2="516.60" class="grid"/>
<line x1="21.80" y1="463.23" x2="213.40" y2="463.23" class="grid"/>
<line x1="136.76" y1="376.50" x2="136.76" y2="516.60" class="grid"/>
<line x1="21.80" y1="436.54" x2="213.40" y2="436.54" class="grid"/>
<line x1="175.08" y1="376.50" x2="175.08" y2="516.60" class="grid"/>
<line x1="21.80" y1="409.86" x2="213.40" y2="409.86" class="grid"/>
<line x1="213.40" y1="376.50" x2="213.40" y2="516.60" class="grid"/>
<line x1="21.80" y1="383.17" x2="213.40" y2="383.17" class="grid"/>
<line x1="21.80" y1="516.60" x2="21.80" y2="518.20" class="tick"/>
<line x1="20.20" y1="516.60" x2="21.80" y2="516.60" class="tick"/>
<text x="21.80" y="523.10" class="tl" text-anchor="middle">0.0</text>
<text x="19.20" y="518.70" class="tl" text-anchor="end">0.0</text>
<line x1="60.12" y1="516.60" x2="60.12" y2="518.20" class="tick"/>
<line x1="20.20" y1="489.91" x2="21.80" y2="489.91" class="tick"/>
<text x="60.12" y="523.10" class="tl" text-anchor="middle">0.2</text>
<text x="19.20" y="492.01" class="tl" text-anchor="end">0.2</text>
<line x1="98.44" y1="516.60" x2="98.44" y2="518.20" class="tick"/>
<line x1="20.20" y1="463.23" x2="21.80" y2="463.23" class="tick"/>
<text x="98.44" y="523.10" class="tl" text-anchor="middle">0.4</text>
<text x="19.20" y="465.33" class="tl" text-anchor="end">0.4</text>
<line x1="136.76" y1="516.60" x2="136.76" y2="518.20" class="tick"/>
<line x1="20.20" y1="436.54" x2="21.80" y2="436.54" class="tick"/>
<text x="136.76" y="523.10" class="tl" text-anchor="middle">0.6</text>
<text x="19.20" y="438.64" class="tl" text-anchor="end">0.6</text>
<line x1="175.08" y1="516.60" x2="175.08" y2="518.20" class="tick"/>
<line x1="20.20" y1="409.86" x2="21.80" y2="409.86" class="tick"/>
<text x="175.08" y="523.10" class="tl" text-anchor="middle">0.8</text>
<text x="19.20" y="411.96" class="tl" text-anchor="end">0.8</text>
<line x1="213.40" y1="516.60" x2="213.40" y2="518.20" class="tick"/>
<line x1="20.20" y1="383.17" x2="21.80" y2="383.17" class="tick"/>
<text x="213.40" y="523.10" class="tl" text-anchor="middle">1.0</text>
<text x="19.20" y="385.27" class="tl" text-anchor="end">1.0</text>
<text x="117.60" y="529.10" class="al" text-anchor="middle" textLength="39.8" lengthAdjust="spacingAndGlyphs">False Positive Rate</text>
<text transform="translate(9.90,446.55) rotate(-90)" x="0" y="0" class="al" text-anchor="middle" textLength="37.7" lengthAdjust="spacingAndGlyphs">True Positive Rate</text>
<g clip-path="url(#clipk)">
<polyline points="21.80,516.60 22.10,495.00 22.09,498.66 22.90,487.22 23.72,479.04 24.54,472.50 25.36,465.97 26.17,459.43 27.81,454.52 29.44,449.62 31.90,444.71 34.35,439.81 37.62,434.90 42.52,430.00 42.43,428.33 46.51,426.30 50.58,424.26 54.65,422.22 58.72,420.19 61.44,418.15 65.51,414.76 69.58,411.36 73.65,407.29 76.37,403.22 78.00,401.18 82.07,401.18 87.50,399.15 91.57,397.11 97.00,395.75 102.43,394.40 105.15,393.04 111.94,389.65 118.72,387.61 122.79,385.57 126.87,384.90 138.00,384.22 146.82,383.65 213.40,383.17" class="cc" stroke="#1f77b4"/>
<polyline points="21.80,516.60 22.10,495.00 22.09,498.66 22.90,487.22 23.72,479.04 24.54,472.50 25.36,465.97 26.17,459.43 27.81,454.52 29.44,449.62 31.90,444.71 34.35,439.81 37.62,434.90 42.52,430.00 42.43,428.33 46.51,426.30 50.58,424.26 54.65,422.22 58.72,420.19 61.44,418.15 65.51,414.76 69.58,411.36 73.65,407.29 76.37,403.22 78.00,401.18 82.07,401.18 87.50,399.15 91.57,397.11 97.00,395.75 102.43,394.40 105.15,393.04 111.94,389.65 118.72,387.61 122.79,385.57 126.87,384.90 138.00,384.22 146.82,383.65 213.40,383.17" class="cm" stroke="#1f77b4"/>
<polyline points="21.80,516.60 21.60,470.87 22.58,459.43 23.72,451.25 25.36,443.08 26.99,436.54 29.44,430.00 29.54,427.65 31.57,423.58 34.29,418.15 37.00,414.08 39.72,410.01 42.43,407.97 46.51,404.58 50.58,401.86 54.65,399.83 58.72,398.47 62.79,396.43 66.87,395.08 72.30,393.72 78.00,393.04 84.79,392.36 91.57,391.00 98.36,389.65 105.15,388.97 111.94,388.29 118.72,387.20 125.51,386.25 132.30,385.57 138.00,384.90 146.82,385.76 155.65,384.71 173.29,384.00 190.94,383.47 213.40,383.17" class="cc" stroke="#ff7f0e"/>
<polyline points="21.80,516.60 21.60,470.87 22.58,459.43 23.72,451.25 25.36,443.08 26.99,436.54 29.44,430.00 29.54,427.65 31.57,423.58 34.29,418.15 37.00,414.08 39.72,410.01 42.43,407.97 46.51,404.58 50.58,401.86 54.65,399.83 58.72,398.47 62.79,396.43 66.87,395.08 72.30,393.72 78.00,393.04 84.79,392.36 91.57,391.00 98.36,389.65 105.15,388.97 111.94,388.29 118.72,387.20 125.51,386.25 132.30,385.57 138.00,384.90 146.82,385.76 155.65,384.71 173.29,384.00 190.94,383.47 213.40,383.17" class="cm" stroke="#ff7f0e"/>
<polyline points="21.80,516.60 21.60,462.70 22.09,446.35 22.90,438.17 23.72,430.00 24.11,426.30 25.47,420.87 26.82,415.44 28.86,412.04 31.57,408.65 33.61,405.94 35.65,403.90 37.00,400.51 39.04,397.11 41.08,396.43 46.51,396.43 49.22,395.08 58.72,394.40 60.08,392.36 69.58,391.68 70.94,390.32 75.01,388.97 78.00,388.29 86.14,388.29 86.14,386.25 90.22,385.57 110.58,385.57 111.26,384.22 125.51,384.22 126.87,383.13 138.00,382.86 213.40,383.17" class="cc" stroke="#2ca02c"/>
<polyline points="21.80,516.60 21.60,462.70 22.09,446.35 22.90,438.17 23.72,430.00 24.11,426.30 25.47,420.87 26.82,415.44 28.86,412.04 31.57,408.65 33.61,405.94 35.65,403.90 37.00,400.51 39.04,397.11 41.08,396.43 46.51,396.43 49.22,395.08 58.72,394.40 60.08,392.36 69.58,391.68 70.94,390.32 75.01,388.97 78.00,388.29 86.14,388.29 86.14,386.25 90.22,385.57 110.58,385.57 111.26,384.22 125.51,384.22 126.87,383.13 138.00,382.86 213.40,383.17" class="cm" stroke="#2ca02c"/>
<polyline points="21.80,516.60 21.60,479.04 22.58,462.70 23.72,454.52 25.36,446.35 26.99,438.17 28.63,430.00 28.18,426.30 30.22,422.22 32.25,416.79 33.61,412.04 34.97,408.65 37.00,404.58 39.04,400.51 41.08,397.11 45.15,397.11 46.51,395.75 50.58,393.72 53.29,392.36 55.33,389.65 57.36,385.57 59.40,382.86 213.40,383.17" class="cc" stroke="#d62728"/>
<polyline points="21.80,516.60 21.60,479.04 22.58,462.70 23.72,454.52 25.36,446.35 26.99,438.17 28.63,430.00 28.18,426.30 30.22,422.22 32.25,416.79 33.61,412.04 34.97,408.65 37.00,404.58 39.04,400.51 41.08,397.11 45.15,397.11 46.51,395.75 50.58,393.72 53.29,392.36 55.33,389.65 57.36,385.57 59.40,382.86 213.40,383.17" class="cm" stroke="#d62728"/>
<polyline points="21.80,516.60 22.10,490.00 22.09,487.22 23.72,472.50 24.54,464.33 26.17,456.16 27.81,449.62 30.26,444.71 32.71,439.81 35.98,434.90 39.25,430.00 38.36,428.33 41.08,424.94 43.79,421.55 46.51,418.15 49.22,415.44 51.94,412.72 54.65,410.01 58.72,407.97 62.79,405.26 66.87,403.90 70.94,402.54 75.01,399.83 78.00,399.15 83.43,399.83 88.86,399.15 95.65,397.79 102.43,396.43 106.51,392.36 111.94,391.00 118.72,389.65 125.51,388.29 132.30,386.93 138.00,385.57 146.82,384.00 155.65,383.47 213.40,383.17" class="cc" stroke="#9467bd"/>
<polyline points="21.80,516.60 22.10,490.00 22.09,487.22 23.72,472.50 24.54,464.33 26.17,456.16 27.81,449.62 30.26,444.71 32.71,439.81 35.98,434.90 39.25,430.00 38.36,428.33 41.08,424.94 43.79,421.55 46.51,418.15 49.22,415.44 51.94,412.72 54.65,410.01 58.72,407.97 62.79,405.26 66.87,403.90 70.94,402.54 75.01,399.83 78.00,399.15 83.43,399.83 88.86,399.15 95.65,397.79 102.43,396.43 106.51,392.36 111.94,391.00 118.72,389.65 125.51,388.29 132.30,386.93 138.00,385.57 146.82,384.00 155.65,383.47 213.40,383.17" class="cm" stroke="#9467bd"/>
<polyline points="21.80,516.60 22.09,510.10 22.58,503.57 22.90,498.66 26.17,498.66 26.17,492.94 31.90,492.94 31.90,487.22 38.43,487.22 38.43,480.68 39.25,475.77 40.89,470.87 42.52,464.33 44.16,459.43 44.97,452.89 49.06,452.89 49.06,446.35 60.50,446.35 60.50,441.44 71.95,441.44 71.95,435.72 76.85,435.72 76.85,430.00 78.00,429.70 80.00,429.70 80.00,423.60 103.80,423.60 103.80,418.20 107.20,418.20 107.20,412.70 109.20,411.40 109.20,405.90 130.90,405.90 130.90,400.30 139.80,400.30 139.80,394.60 163.60,394.60 163.60,388.80 168.90,388.80 168.90,383.17 213.40,383.17" class="cc" stroke="#8c564b"/>
<polyline points="21.80,516.60 22.09,510.10 22.58,503.57 22.90,498.66 26.17,498.66 26.17,492.94 31.90,492.94 31.90,487.22 38.43,487.22 38.43,480.68 39.25,475.77 40.89,470.87 42.52,464.33 44.16,459.43 44.97,452.89 49.06,452.89 49.06,446.35 60.50,446.35 60.50,441.44 71.95,441.44 71.95,435.72 76.85,435.72 76.85,430.00 78.00,429.70 80.00,429.70 80.00,423.60 103.80,423.60 103.80,418.20 107.20,418.20 107.20,412.70 109.20,411.40 109.20,405.90 130.90,405.90 130.90,400.30 139.80,400.30 139.80,394.60 163.60,394.60 163.60,388.80 168.90,388.80 168.90,383.17 213.40,383.17" class="cm" stroke="#8c564b"/>
<polyline points="21.80,516.60 21.60,488.85 22.58,472.50 23.72,459.43 25.36,449.62 26.99,439.81 28.63,430.00 31.57,425.62 33.61,420.87 35.65,415.44 38.36,410.69 40.40,407.29 43.11,405.26 50.58,405.26 50.58,400.51 53.29,399.83 53.29,397.11 56.01,395.75 58.72,394.40 61.44,392.36 66.87,392.36 69.58,391.68 78.00,392.36 105.15,392.36 105.83,382.86 213.40,383.17" class="cc" stroke="#e377c2"/>
<polyline points="21.80,516.60 21.60,488.85 22.58,472.50 23.72,459.43 25.36,449.62 26.99,439.81 28.63,430.00 31.57,425.62 33.61,420.87 35.65,415.44 38.36,410.69 40.40,407.29 43.11,405.26 50.58,405.26 50.58,400.51 53.29,399.83 53.29,397.11 56.01,395.75 58.72,394.40 61.44,392.36 66.87,392.36 69.58,391.68 78.00,392.36 105.15,392.36 105.83,382.86 213.40,383.17" class="cm" stroke="#e377c2"/>
</g>
<line x1="21.80" y1="516.60" x2="213.40" y2="383.17" class="diag"/>
<rect x="21.80" y="376.50" width="191.60" height="140.10" class="frame"/>
<rect x="154.8" y="469.0" width="56.60" height="45.40" rx="0.8" class="leg"/>
<line x1="156.4" y1="472.10" x2="166.4" y2="472.10" stroke="#1f77b4" class="lh"/>
<circle cx="161.40" cy="472.10" r="0.95" fill="#1f77b4"/>
<text x="169.1" y="473.70" class="lt">akiec (AUC:87.3%)</text>
<line x1="156.4" y1="478.38" x2="166.4" y2="478.38" stroke="#ff7f0e" class="lh"/>
<circle cx="161.40" cy="478.38" r="0.95" fill="#ff7f0e"/>
<text x="169.1" y="479.98" class="lt">bcc (AUC:92.1%)</text>
<line x1="156.4" y1="484.66" x2="166.4" y2="484.66" stroke="#2ca02c" class="lh"/>
<circle cx="161.40" cy="484.66" r="0.95" fill="#2ca02c"/>
<text x="169.1" y="486.26" class="lt">bkl (AUC:95.6%)</text>
<line x1="156.4" y1="490.94" x2="166.4" y2="490.94" stroke="#d62728" class="lh"/>
<circle cx="161.40" cy="490.94" r="0.95" fill="#d62728"/>
<text x="169.1" y="492.54" class="lt">df (AUC:96.1%)</text>
<line x1="156.4" y1="497.22" x2="166.4" y2="497.22" stroke="#9467bd" class="lh"/>
<circle cx="161.40" cy="497.22" r="0.95" fill="#9467bd"/>
<text x="169.1" y="498.82" class="lt">nv (AUC:88.8%)</text>
<line x1="156.4" y1="503.50" x2="166.4" y2="503.50" stroke="#8c564b" class="lh"/>
<circle cx="161.40" cy="503.50" r="0.95" fill="#8c564b"/>
<text x="169.1" y="505.10" class="lt">vasc (AUC:74.1%)</text>
<line x1="156.4" y1="509.78" x2="166.4" y2="509.78" stroke="#e377c2" class="lh"/>
<circle cx="161.40" cy="509.78" r="0.95" fill="#e377c2"/>
<text x="169.1" y="511.38" class="lt">mel (AUC:93.3%)</text>
<line x1="279.22" y1="377.30" x2="279.22" y2="516.20" class="grid"/>
<line x1="241.40" y1="489.74" x2="430.50" y2="489.74" class="grid"/>
<line x1="317.04" y1="377.30" x2="317.04" y2="516.20" class="grid"/>
<line x1="241.40" y1="463.29" x2="430.50" y2="463.29" class="grid"/>
<line x1="354.86" y1="377.30" x2="354.86" y2="516.20" class="grid"/>
<line x1="241.40" y1="436.83" x2="430.50" y2="436.83" class="grid"/>
<line x1="392.68" y1="377.30" x2="392.68" y2="516.20" class="grid"/>
<line x1="241.40" y1="410.37" x2="430.50" y2="410.37" class="grid"/>
<line x1="430.50" y1="377.30" x2="430.50" y2="516.20" class="grid"/>
<line x1="241.40" y1="383.91" x2="430.50" y2="383.91" class="grid"/>
<line x1="241.40" y1="516.20" x2="241.40" y2="517.80" class="tick"/>
<line x1="239.80" y1="516.20" x2="241.40" y2="516.20" class="tick"/>
<text x="241.40" y="522.70" class="tl" text-anchor="middle">0.0</text>
<text x="238.80" y="518.30" class="tl" text-anchor="end">0.0</text>
<line x1="279.22" y1="516.20" x2="279.22" y2="517.80" class="tick"/>
<line x1="239.80" y1="489.74" x2="241.40" y2="489.74" class="tick"/>
<text x="279.22" y="522.70" class="tl" text-anchor="middle">0.2</text>
<text x="238.80" y="491.84" class="tl" text-anchor="end">0.2</text>
<line x1="317.04" y1="516.20" x2="317.04" y2="517.80" class="tick"/>
<line x1="239.80" y1="463.29" x2="241.40" y2="463.29" class="tick"/>
<text x="317.04" y="522.70" class="tl" text-anchor="middle">0.4</text>
<text x="238.80" y="465.39" class="tl" text-anchor="end">0.4</text>
<line x1="354.86" y1="516.20" x2="354.86" y2="517.80" class="tick"/>
<line x1="239.80" y1="436.83" x2="241.40" y2="436.83" class="tick"/>
<text x="354.86" y="522.70" class="tl" text-anchor="middle">0.6</text>
<text x="238.80" y="438.93" class="tl" text-anchor="end">0.6</text>
<line x1="392.68" y1="516.20" x2="392.68" y2="517.80" class="tick"/>
<line x1="239.80" y1="410.37" x2="241.40" y2="410.37" class="tick"/>
<text x="392.68" y="522.70" class="tl" text-anchor="middle">0.8</text>
<text x="238.80" y="412.47" class="tl" text-anchor="end">0.8</text>
<line x1="430.50" y1="516.20" x2="430.50" y2="517.80" class="tick"/>
<line x1="239.80" y1="383.91" x2="241.40" y2="383.91" class="tick"/>
<text x="430.50" y="522.70" class="tl" text-anchor="middle">1.0</text>
<text x="238.80" y="386.01" class="tl" text-anchor="end">1.0</text>
<text x="335.95" y="528.70" class="al" text-anchor="middle" textLength="39.8" lengthAdjust="spacingAndGlyphs">False Positive Rate</text>
<text transform="translate(229.50,446.75) rotate(-90)" x="0" y="0" class="al" text-anchor="middle" textLength="37.7" lengthAdjust="spacingAndGlyphs">True Positive Rate</text>
<g clip-path="url(#clipl)">
<polyline points="241.40,516.20 241.30,513.20 241.30,499.50 241.40,485.90 241.50,472.30 241.70,461.40 241.80,451.80 242.10,445.00 242.44,441.80 242.99,436.37 243.80,430.94 244.75,426.19 246.11,421.44 247.47,418.04 249.50,415.33 251.54,412.61 253.57,409.90 255.61,407.18 257.65,404.47 260.36,401.75 263.08,399.04 265.79,397.00 269.18,394.97 272.58,393.20 275.97,391.57 279.36,390.49 283.44,389.81 287.51,389.27 291.58,388.86 295.65,388.32 298.00,387.50 304.30,386.70 310.70,385.90 317.00,385.40 324.90,385.10 334.40,384.80 345.50,384.30 355.00,384.00 366.10,383.90 381.80,383.60 391.30,383.40 430.50,383.40" class="mc" stroke="#ff1493"/>
<polyline points="241.40,516.20 241.30,514.50 241.30,509.10 241.30,505.00 241.40,500.90 241.40,496.80 241.50,492.00 241.50,487.30 241.70,483.20 241.80,478.40 242.10,474.30 242.40,470.20 242.80,465.50 243.20,461.40 244.10,456.60 245.50,451.80 247.30,447.70 248.82,441.12 250.18,437.73 251.54,435.01 252.90,432.30 254.93,429.58 256.97,426.87 259.00,423.47 261.72,420.08 264.43,416.69 267.15,414.65 269.86,411.94 273.26,409.90 276.65,407.86 280.04,405.83 283.44,404.06 287.51,403.11 291.58,401.75 295.65,399.72 298.00,397.80 304.30,397.00 310.70,396.40 317.00,395.90 321.80,395.40 324.10,393.00 327.30,390.70 332.80,389.90 339.20,389.40 345.50,388.80 351.80,387.80 358.20,386.70 366.10,386.10 373.90,385.50 381.80,384.70 389.80,383.90 397.70,383.60 430.50,383.40" class="mc" stroke="#000080"/>
</g>
<line x1="241.40" y1="516.20" x2="430.50" y2="383.91" class="diag"/>
<rect x="241.40" y="377.30" width="189.10" height="138.90" class="frame"/>
<rect x="326.1" y="499.7" width="103.80" height="14.60" rx="0.8" class="leg"/>
<circle cx="329.7" cy="503.00" r="1.05" fill="#ff1493"/>
<circle cx="333.8" cy="503.00" r="1.05" fill="#ff1493"/>
<text x="340.7" y="504.60" class="lt" textLength="85.6" lengthAdjust="spacingAndGlyphs">micro-average ROC curve (area = 0.96)</text>
<circle cx="329.7" cy="509.90" r="1.05" fill="#000080"/>
<circle cx="333.8" cy="509.90" r="1.05" fill="#000080"/>
<text x="340.7" y="511.50" class="lt" textLength="85.6" lengthAdjust="spacingAndGlyphs">macro-average ROC curve (area = 0.90)</text>
<text x="38.6" y="173.7" class="cap" style="font-size:8.0px;" textLength="147.9" lengthAdjust="spacingAndGlyphs"><tspan font-weight="bold">(g)</tspan> Vision transformer (ViT) cross-entropy (CE).</text>
<text x="245.2" y="173.8" class="cap" style="font-size:8.0px;" textLength="169.2" lengthAdjust="spacingAndGlyphs"><tspan font-weight="bold">(h)</tspan> Vision transformer (ViT) cross-entropy (CE), mean.</text>
<text x="8.9" y="354.1" class="cap" style="font-size:8.0px;" textLength="206.8" lengthAdjust="spacingAndGlyphs"><tspan font-weight="bold">(i)</tspan> Vision transformer (ViT) weighted area under the curve (AUC).</text>
<text x="223.7" y="354.0" class="cap" style="font-size:8.0px;" textLength="218.3" lengthAdjust="spacingAndGlyphs"><tspan font-weight="bold">(j)</tspan> Vision transformer (ViT) weighted area under the curve (AUC),</text>
<text x="223.7" y="362.6" class="cap" style="font-size:8.0px;" textLength="19.6" lengthAdjust="spacingAndGlyphs">mean.</text>
<text x="14.7" y="541.5" class="cap" style="font-size:8.0px;" textLength="193.6" lengthAdjust="spacingAndGlyphs"><tspan font-weight="bold">(k)</tspan> Vision transformer (ViT) focal area under the curve (AUC).</text>
<text x="224.0" y="541.5" class="cap" style="font-size:8.0px;" textLength="211.4" lengthAdjust="spacingAndGlyphs"><tspan font-weight="bold">(l)</tspan> Vision transformer (ViT) focal area under the curve (AUC), mean.</text>
</svg>
</body></html>
